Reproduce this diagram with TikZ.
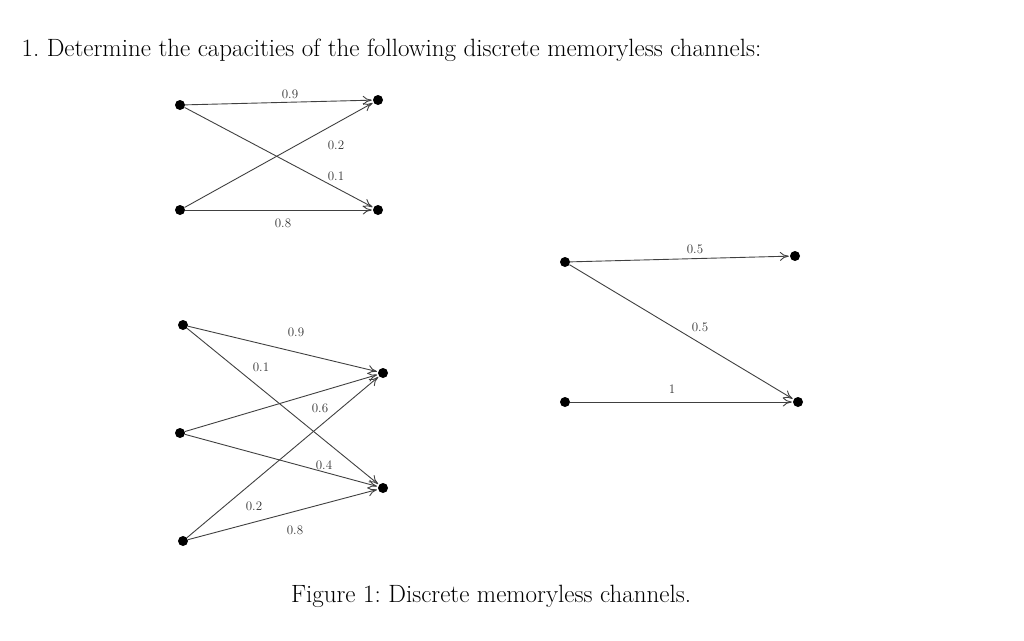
\documentclass[tikz,border=0pt]{standalone}
\usetikzlibrary{arrows.meta}
\begin{document}
\begin{tikzpicture}[x=1pt,y=-1pt,
  dot/.style={circle,fill=black,inner sep=0pt,minimum size=10pt},
  ed/.style={draw=black!75,line width=0.9pt,-{To[length=9pt,width=9pt]},shorten >=1pt},
  lab/.style={font=\fontsize{13}{15}\selectfont,text=black!80,inner sep=1pt}]
\useasboundingbox (0,0) rectangle (1024,640);
\node[anchor=west,font=\fontsize{25}{30}\selectfont] (title) at (18,50) {1.\ Determine the capacities of the following discrete memoryless channels:};
% channel 1
\node[dot] (a1) at (180,105) {}; \node[dot] (a2) at (180,210) {};
\node[dot] (b1) at (378,100) {}; \node[dot] (b2) at (378,210) {};
\draw[ed] (a1) -- (b1); \draw[ed] (a1) -- (b2); \draw[ed] (a2) -- (b1); \draw[ed] (a2) -- (b2);
\node[lab] (l1) at (290,94) {0.9}; \node[lab] (l2) at (336,145) {0.2};
\node[lab] (l3) at (336,176) {0.1}; \node[lab] (l4) at (283,223) {0.8};
% channel 3
\node[dot] (c1) at (565,262) {}; \node[dot] (c2) at (565,402) {};
\node[dot] (d1) at (795,256) {}; \node[dot] (d2) at (798,402) {};
\draw[ed] (c1) -- (d1); \draw[ed] (c1) -- (d2); \draw[ed] (c2) -- (d2);
\node[lab] (l5) at (695,249) {0.5}; \node[lab] (l6) at (700,327) {0.5}; \node[lab] (l7) at (672,389) {1};
% channel 2
\node[dot] (e1) at (183,325) {}; \node[dot] (e2) at (180,433) {}; \node[dot] (e3) at (183,541) {};
\node[dot] (f1) at (383,373) {}; \node[dot] (f2) at (383,488) {};
\draw[ed] (e1) -- (f1); \draw[ed] (e1) -- (f2); \draw[ed] (e2) -- (f1);
\draw[ed] (e2) -- (f2); \draw[ed] (e3) -- (f1); \draw[ed] (e3) -- (f2);
\node[lab] (m1) at (296,332) {0.9}; \node[lab] (m2) at (261,367) {0.1};
\node[lab] (m3) at (320,408) {0.6}; \node[lab] (m4) at (324,465) {0.4};
\node[lab] (m5) at (254,506) {0.2}; \node[lab] (m6) at (295,530) {0.8};
\node[font=\fontsize{25}{30}\selectfont] (cap) at (491,596) {Figure 1:\ Discrete memoryless channels.};
\end{tikzpicture}
\end{document}
